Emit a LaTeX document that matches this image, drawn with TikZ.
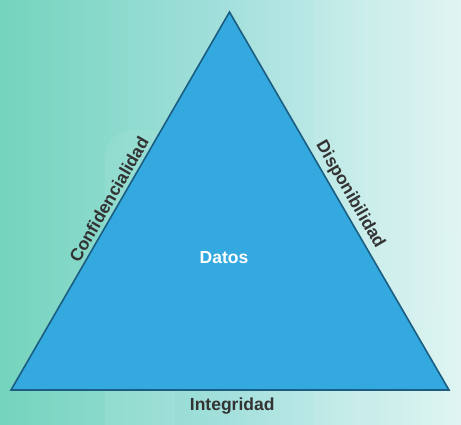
\documentclass[tikz,border=0pt]{standalone}
\usepackage{fontspec}
\setmainfont{Liberation Sans}
\usepackage{xcolor}
\usetikzlibrary{positioning,calc}
\definecolor{bgleft}{HTML}{74D4BD}
\definecolor{bgmid}{HTML}{A4E0DD}
\definecolor{bgright}{HTML}{E0F5F2}
\definecolor{trifill}{HTML}{33A9DF}
\definecolor{triedge}{HTML}{1B5E82}
\definecolor{label}{HTML}{333333}

\begin{document}
\begin{tikzpicture}[
    x=1pt, y=-1pt,
    side/.style={font=\bfseries\fontsize{17.5}{19}\selectfont, text=label, inner sep=1pt},
    core/.style={font=\bfseries\fontsize{17.5}{19}\selectfont, text=white},
    bar/.style={fill=white, opacity=0.06, rounded corners=28pt},
    tri/.style={draw=triedge, line width=1.6pt, fill=trifill, line join=miter}
]
    % Background
    \useasboundingbox (0,0) rectangle (461,425);
    \shade[left color=bgleft, right color=bgright, middle color=bgmid] (0,0) rectangle (461,425);
    \fill[bar] (105,130) rectangle (175,600);
    \fill[bar] (315,-40) rectangle (368,600);
    \fill[bar] (365,-40) rectangle (440,325);
    \fill[bar] (440,-40) rectangle (520,235);

    % Triangle
    \coordinate (top) at (229.5,12);
    \coordinate (bl) at (11,390);
    \coordinate (br) at (449,390);
    \draw[tri] (top) -- (br) -- (bl) -- cycle;

    \path (bl) -- (top) node[side, pos=0.49, sloped, above=3pt] (conf) {Confidencialidad};
    \path (top) -- (br) node[side, pos=0.5, sloped, above=3pt] (disp) {Disponibilidad};
    \node[side, below=7pt] (integ) at ($(bl)!0.505!(br)$) {Integridad};
    \node[core] (datos) at (224,258) {Datos};
\end{tikzpicture}
\end{document}
